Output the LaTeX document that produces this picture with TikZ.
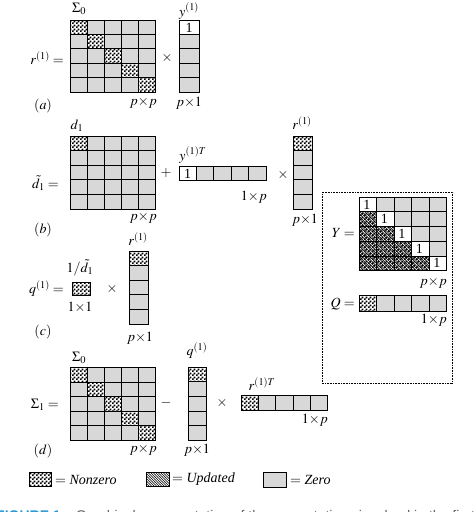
\documentclass[tikz,border=0pt]{standalone}
\usepackage{mathptmx}
\usepackage{fontspec}
\setmainfont{Liberation Serif}
\newfontfamily\capfont{Liberation Sans}
\usetikzlibrary{patterns}
\definecolor{zgray}{RGB}{216,216,216}
\definecolor{capblue}{RGB}{40,150,210}
\definecolor{capgray}{RGB}{95,95,95}
\pgfdeclarepatternformonly{finechk}{\pgfpointorigin}{\pgfqpoint{4pt}{4pt}}{\pgfqpoint{4pt}{4pt}}{%
  \pgfpathrectangle{\pgfpointorigin}{\pgfqpoint{2.05pt}{2.05pt}}%
  \pgfpathrectangle{\pgfqpoint{2pt}{2pt}}{\pgfqpoint{2.05pt}{2.05pt}}%
  \pgfusepath{fill}}
\pgfdeclarepatternformonly{finenw}{\pgfqpoint{-1pt}{-1pt}}{\pgfqpoint{3.5pt}{3.5pt}}{\pgfqpoint{2.5pt}{2.5pt}}{%
  \pgfsetlinewidth{0.7pt}%
  \pgfpathmoveto{\pgfqpoint{-0.1pt}{2.6pt}}\pgfpathlineto{\pgfqpoint{2.6pt}{-0.1pt}}%
  \pgfusepath{stroke}}
\tikzset{
  gcell/.style={fill=zgray,draw=black,line width=1pt},
  nz/.style={preaction={fill=white},pattern=finechk,draw=black,line width=1pt},
  wcell/.style={fill=white,draw=black,line width=1pt},
  upd/.style={preaction={fill=white},pattern=finenw,draw=black,line width=1pt},
  updnz/.style={preaction={fill=white},preaction={pattern=finenw},pattern=finechk,draw=black,line width=1pt},
  lbl/.style={inner sep=0pt,font=\fontsize{14}{17}\selectfont},
}
\newcommand\Grid[6]{%
  \foreach \ii in {1,...,#3}{\foreach \jj in {1,...,#4}{%
    \draw[gcell] ({#1+(\ii-1)*#5},{#2+(\jj-1)*#6}) rectangle ++(#5,#6);}}}
\newcommand\Cell[7]{%
  \draw[#1] ({#2+(#6-1)*#4},{#3+(#7-1)*#5}) rectangle ++(#4,#5);}
\begin{document}
\begin{tikzpicture}[x=1pt,y=-1pt]
\useasboundingbox (0,0) rectangle (474,512);
% ---------- (a)
\Grid{70}{20}{5}{5}{17.14}{14.46}
\foreach \k in {1,...,5}{\Cell{nz}{70}{20}{17.14}{14.46}{\k}{\k}}
\Grid{179.3}{20}{1}{5}{19.7}{14.46}
\Cell{wcell}{179.3}{20}{19.7}{14.46}{1}{1}
\node[lbl] (a1) at (189,27.4) {1};
\node[lbl,anchor=east] (ra) at (64,58) {$r^{(1)} =$};
\node[lbl] (sa) at (79,9) {$\Sigma_0$};
\node[lbl] (ya) at (189,11) {$y^{(1)}$};
\node[lbl] (xa) at (167,58) {$\times$};
\node[lbl] (la) at (43,106) {$(a)$};
\node[lbl,anchor=east] (ppa) at (157,103) {$p{\times}p$};
\node[lbl] (p1a) at (189,103) {$p{\times}1$};
% ---------- (b)
\Grid{70}{136}{5}{5}{17.14}{14.6}
\Cell{nz}{70}{136}{17.14}{14.6}{1}{1}
\node[lbl] (db) at (77,126) {$d_1$};
\node[lbl,anchor=east] (deq) at (59,183) {$\tilde d_1 =$};
\node[lbl] (plb) at (166,173) {$+$};
\Grid{179}{166.7}{5}{1}{17.4}{14}
\Cell{wcell}{179}{166.7}{17.4}{14}{1}{1}
\node[lbl] (b1) at (187.7,173.7) {1};
\node[lbl] (yb) at (193,155) {$y^{(1)T}$};
\node[lbl,anchor=east] (1pb) at (267,197) {$1{\times}p$};
\node[lbl] (xb) at (283,175) {$\times$};
\Grid{293}{136}{1}{5}{19}{14.6}
\Cell{nz}{293}{136}{19}{14.6}{1}{1}
\node[lbl] (rb) at (302,123) {$r^{(1)}$};
\node[lbl] (p1b) at (305,220) {$p{\times}1$};
\node[lbl,anchor=east] (ppb) at (157,218) {$p{\times}p$};
\node[lbl] (lb) at (43,230) {$(b)$};
% ---------- (c)
\node[lbl] (dc) at (80,268) {$1/\tilde d_1$};
\draw[nz] (72,282) rectangle (90,295);
\node[lbl] (11c) at (80,307) {$1{\times}1$};
\node[lbl,anchor=east] (qeq) at (64,289) {$q^{(1)} =$};
\node[lbl] (xc) at (112,289) {$\times$};
\Grid{129}{251}{1}{5}{19}{14.6}
\Cell{nz}{129}{251}{19}{14.6}{1}{1}
\node[lbl] (rc) at (138,239) {$r^{(1)}$};
\node[lbl] (p1c) at (140,338) {$p{\times}1$};
\node[lbl] (lc) at (43,332) {$(c)$};
% ---------- (d)
\node[lbl] (sd) at (79,358) {$\Sigma_0$};
\Grid{70}{367.5}{5}{5}{17.14}{14.6}
\foreach \k in {1,...,5}{\Cell{nz}{70}{367.5}{17.14}{14.6}{\k}{\k}}
\node[lbl,anchor=east] (seq) at (59,405) {$\Sigma_1 =$};
\node[lbl] (md) at (166,403) {$-$};
\Grid{188}{367.3}{1}{5}{18}{14.6}
\Cell{nz}{188}{367.3}{18}{14.6}{1}{1}
\node[lbl] (qd) at (197,351) {$q^{(1)}$};
\node[lbl] (p1d) at (197,450) {$p{\times}1$};
\node[lbl] (xd) at (222,403) {$\times$};
\Grid{241}{395}{5}{1}{17.34}{15}
\Cell{nz}{241}{395}{17.34}{15}{1}{1}
\node[lbl] (rd) at (262,384) {$r^{(1)T}$};
\node[lbl,anchor=east] (1pd) at (328,420) {$1{\times}p$};
\node[lbl,anchor=east] (ppd) at (157,450) {$p{\times}p$};
\node[lbl] (ld) at (43,451) {$(d)$};
% ---------- dashed box
\draw[densely dotted,line width=0.6pt] (322.3,192.3) rectangle (452.7,383.3);
\Grid{359.3}{197.3}{5}{5}{17.48}{14.68}
\foreach \k in {1,...,5}{\Cell{wcell}{359.3}{197.3}{17.48}{14.68}{\k}{\k}
  \node[lbl] (y\k) at ({359.3+(\k-1)*17.48+7.6},{197.3+(\k-1)*14.68+7.2}) {1};}
\foreach \r in {2,...,5}{\foreach \c in {1,...,\r}{\ifnum\c<\r\relax
  \Cell{updnz}{359.3}{197.3}{17.48}{14.68}{\c}{\r}\fi}}
\node[lbl,anchor=east] (yeq) at (355,233) {$Y =$};
\node[lbl,anchor=east] (ppy) at (447,283) {$p{\times}p$};
\Grid{359.3}{295}{5}{1}{17.5}{16}
\Cell{nz}{359.3}{295}{17.5}{16}{1}{1}
\node[lbl,anchor=east] (qeq2) at (355,304) {$Q =$};
\node[lbl,anchor=east] (1pq) at (447,320) {$1{\times}p$};
% ---------- legend
\draw[nz] (29,472.7) rectangle (51,486.7);
\node[lbl,anchor=west] (lnz) at (55,479.5) {$=$ \textit{Nonzero}};
\draw[upd] (146,472.7) rectangle (169,486.7);
\node[lbl,anchor=west] (lup) at (172,479.5) {$=$ \textit{Updated}};
\draw[gcell] (263,472.5) rectangle (286,487);
\node[lbl,anchor=west] (lze) at (290,479.5) {$=$ \textit{Zero}};
% ---------- caption (cut off by the edge, as in the reference)
\node[anchor=base west,inner sep=0pt,font=\capfont\fontsize{14}{16}\selectfont] (cap) at (-4,520.5)
  {\textcolor{capblue}{\bfseries FIGURE 1}\hspace{15pt}\textcolor{capgray}{Graphical representation of the computations involved in the first}};
\end{tikzpicture}
\end{document}
